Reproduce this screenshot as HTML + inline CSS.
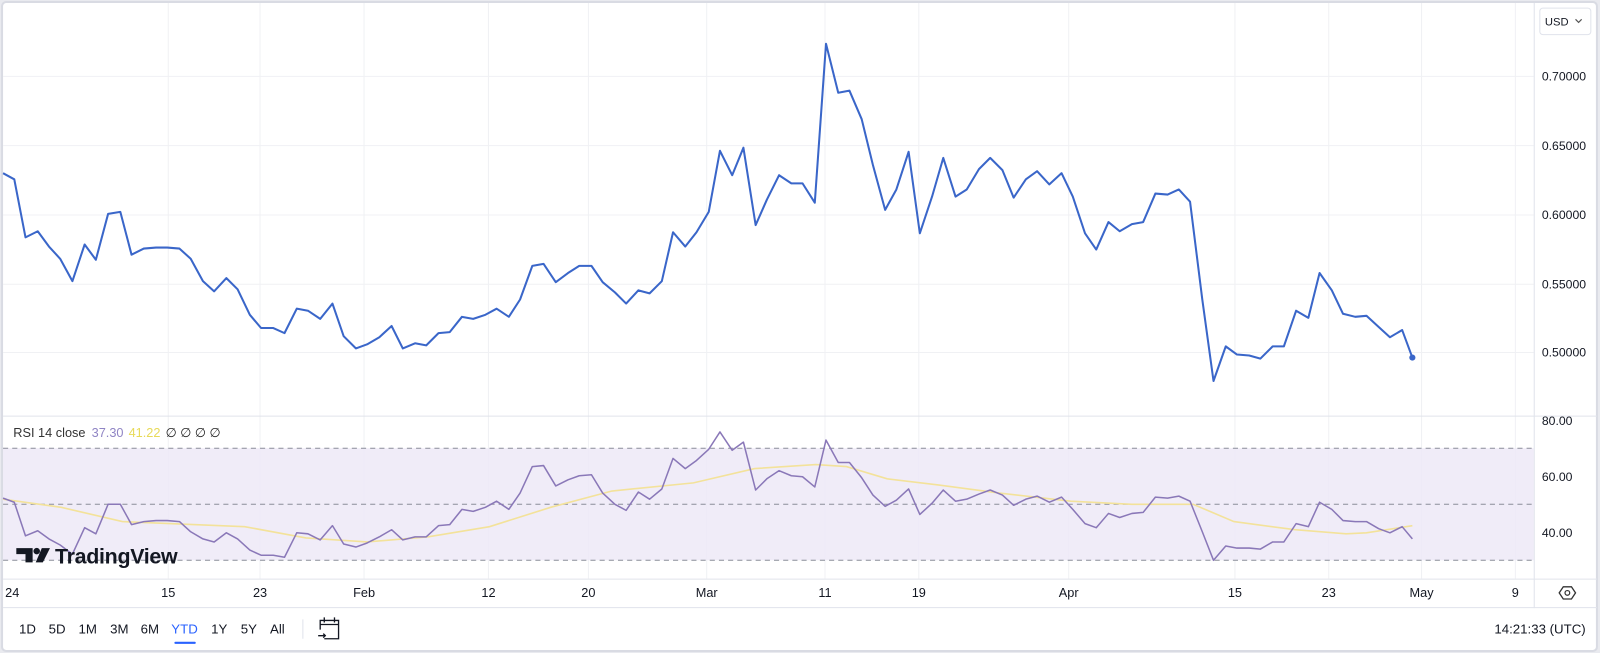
<!DOCTYPE html>
<html><head><meta charset="utf-8"><style>
html,body{margin:0;padding:0;background:#e9eaef;}
svg{display:block;font-family:"Liberation Sans","DejaVu Sans",sans-serif;}
</style></head><body>
<svg width="1600" height="653" viewBox="0 0 1569 641" preserveAspectRatio="none" xmlns="http://www.w3.org/2000/svg">
<rect x="2" y="2" width="1564" height="637" rx="4" fill="#fff" stroke="#d9dbe3" stroke-width="2"/>
<!-- main grid -->
<g stroke="#f0f1f4" stroke-width="1">
<line x1="3" y1="75" x2="1504" y2="75"/><line x1="3" y1="143" x2="1504" y2="143"/><line x1="3" y1="211" x2="1504" y2="211"/><line x1="3" y1="279" x2="1504" y2="279"/><line x1="3" y1="346" x2="1504" y2="346"/>
<g id="vg">
<line x1="165" y1="3" x2="165" y2="568"/><line x1="255" y1="3" x2="255" y2="568"/><line x1="357" y1="3" x2="357" y2="568"/><line x1="479" y1="3" x2="479" y2="568"/><line x1="577" y1="3" x2="577" y2="568"/><line x1="693" y1="3" x2="693" y2="568"/><line x1="809" y1="3" x2="809" y2="568"/><line x1="901" y1="3" x2="901" y2="568"/><line x1="1048" y1="3" x2="1048" y2="568"/><line x1="1211" y1="3" x2="1211" y2="568"/><line x1="1303" y1="3" x2="1303" y2="568"/><line x1="1394" y1="3" x2="1394" y2="568"/><line x1="1486" y1="3" x2="1486" y2="568"/>
</g></g>
<!-- separators -->
<line x1="3" y1="408.5" x2="1566" y2="408.5" stroke="#e0e3eb"/>
<line x1="1504.5" y1="3" x2="1504.5" y2="597" stroke="#e0e3eb"/>
<line x1="3" y1="568.5" x2="1566" y2="568.5" stroke="#e0e3eb"/>
<line x1="3" y1="596.5" x2="1566" y2="596.5" stroke="#e0e3eb"/>
<!-- RSI band -->
<rect x="3" y="440" width="1501" height="110" fill="#ede9f7" opacity="0.85"/>
<g stroke="#8a8d99" stroke-dasharray="5,4" stroke-width="1">
<line x1="3" y1="440" x2="1504" y2="440"/><line x1="3" y1="495" x2="1504" y2="495"/><line x1="3" y1="550" x2="1504" y2="550"/></g>
<!-- price line -->
<polyline fill="none" stroke="#3a66c9" stroke-width="2" stroke-linejoin="round" points="3,170 14,176 25,233 37,227 48,242 59,254 71,276 83,240 94,255 106,210 118,208 129,250 141,244 153,243 164,243 176,244 187,254 199,276 210,286 222,273 233,284 245,309 256,322 268,322 279,327 291,303 302,305 314,313 326,298 337,330 349,342 360,338 372,331 384,320 395,342 407,337 418,339 430,327 441,326 453,311 464,313 476,309 487,303 499,311 510,294 522,261 533,259 545,277 557,268 568,261 580,261 591,277 603,287 614,298 626,285 637,288 649,276 660,228 672,242 683,228 695,208 706,148 718,172 729,145 741,221 752,196 764,172 776,180 787,180 799,199 810,43 822,91 833,89 845,117 856,162 868,206 879,186 891,149 902,229 914,193 925,155 937,193 948,186 960,166 971,155 983,167 994,194 1006,176 1017,168 1029,181 1041,170 1052,193 1064,229 1075,245 1087,218 1098,227 1110,220 1121,218 1133,190 1145,191 1156,186 1167,198 1179,294 1190,374 1202,340 1213,348 1225,349 1236,352 1248,340 1259,340 1271,305 1283,312 1294,268 1306,285 1317,308 1329,311 1340,310 1352,321 1363,331 1375,324 1385,351"/>
<circle cx="1385" cy="351" r="3" fill="#3a66c9"/>
<!-- RSI MA -->
<polyline fill="none" stroke="#f3e29a" stroke-width="1.6" points="3,490 60,498 120,512 240,517 300,528 360,532 420,527 480,517 540,498 600,482 680,474 740,460 800,456 830,458 870,470 920,476 980,484 1050,492 1110,495 1170,495 1210,512 1270,520 1320,524 1340,523 1385,516"/>
<!-- RSI -->
<polyline fill="none" stroke="#8a78b8" stroke-width="1.5" stroke-linejoin="round" points="3,489 14,493 25,526 37,521 48,529 59,535 71,544 83,518 94,524 106,495 118,495 129,515 141,512 153,511 164,511 176,512 187,522 199,529 210,532 222,523 233,529 245,540 256,545 268,545 279,547 291,523 302,524 314,530 326,516 337,534 349,537 360,533 372,527 384,520 395,530 407,527 418,527 430,516 441,515 453,500 464,502 476,498 487,492 499,500 510,484 522,458 533,457 545,477 557,471 568,467 580,466 591,484 603,495 614,501 626,483 637,490 649,480 660,450 672,460 683,452 695,441 706,424 718,442 729,434 741,481 752,470 764,462 776,467 787,468 799,478 810,432 822,454 833,454 845,469 856,486 868,497 879,491 891,480 902,505 914,494 925,481 937,492 948,490 960,485 971,481 983,486 994,496 1006,490 1017,487 1029,493 1041,488 1052,500 1064,514 1075,518 1087,504 1098,508 1110,504 1121,503 1133,488 1145,489 1156,487 1167,492 1179,522 1190,550 1202,536 1213,538 1225,538 1236,539 1248,532 1259,532 1271,514 1283,517 1294,493 1306,500 1317,511 1329,512 1340,512 1352,519 1363,523 1375,517 1385,529"/>
<!-- watermark -->
<rect x="12" y="531" width="58" height="24" fill="#fff" opacity="0"/>
<g fill="#131722">
<path d="M16 538h16v14h-7v-8h-9z"/><circle cx="36" cy="541" r="3.2"/><path d="M41 538h8l-7 14h-7z"/>
<text x="54" y="553" font-size="21" font-weight="bold" letter-spacing="-0.3">TradingView</text></g>
<!-- RSI legend -->
<text x="13" y="429" font-size="12.5" fill="#333"><tspan>RSI 14 close</tspan><tspan dx="6" fill="#8f84c4">37.30</tspan><tspan dx="5" fill="#e8da59">41.22</tspan><tspan dx="5" fill="#222">∅ ∅ ∅ ∅</tspan></text>
<!-- right axis -->
<rect x="1510" y="8" width="50" height="26" rx="3" fill="#fff" stroke="#e0e3eb"/>
<text x="1515" y="25" font-size="11" fill="#131722">USD</text>
<path d="M1545 19l3 3 3-3" fill="none" stroke="#555" stroke-width="1.2"/>
<g font-size="12" fill="#131722">
<text x="1512" y="79">0.70000</text><text x="1512" y="147">0.65000</text><text x="1512" y="215">0.60000</text><text x="1512" y="283">0.55000</text><text x="1512" y="350">0.50000</text>
<text x="1512" y="417">80.00</text><text x="1512" y="472">60.00</text><text x="1512" y="527">40.00</text></g>
<!-- time axis -->
<g font-size="12.5" fill="#131722" text-anchor="middle">
<text x="12" y="586">24</text><text x="165" y="586">15</text><text x="255" y="586">23</text><text x="357" y="586">Feb</text><text x="479" y="586">12</text><text x="577" y="586">20</text><text x="693" y="586">Mar</text><text x="809" y="586">11</text><text x="901" y="586">19</text><text x="1048" y="586">Apr</text><text x="1211" y="586">15</text><text x="1303" y="586">23</text><text x="1394" y="586">May</text><text x="1486" y="586">9</text></g>
<polygon points="1529,582 1533,576 1541,576 1545,582 1541,588 1533,588" fill="none" stroke="#333" stroke-width="1.3"/><circle cx="1537" cy="582" r="2.3" fill="none" stroke="#333" stroke-width="1.2"/>
<!-- toolbar -->
<g font-size="13" fill="#131722" text-anchor="middle">
<text x="27" y="622">1D</text><text x="56" y="622">5D</text><text x="86" y="622">1M</text><text x="117" y="622">3M</text><text x="147" y="622">6M</text><text x="181" y="622" fill="#2962ff">YTD</text><text x="215" y="622">1Y</text><text x="244" y="622">5Y</text><text x="272" y="622">All</text></g>
<rect x="171" y="630" width="21" height="2" rx="1" fill="#2962ff"/>
<line x1="297" y1="608" x2="297" y2="627" stroke="#e0e3eb"/>
<g fill="none" stroke="#131722" stroke-width="1.3"><path d="M314 618v-9h18v18h-14"/><path d="M314 613h18M318 606v5M328 606v5"/><path d="M312 624h7M317 622l2 2-2 2"/></g>
<text x="1555" y="622" font-size="13" fill="#131722" text-anchor="end">14:21:33 (UTC)</text>
</svg>
</body></html>
